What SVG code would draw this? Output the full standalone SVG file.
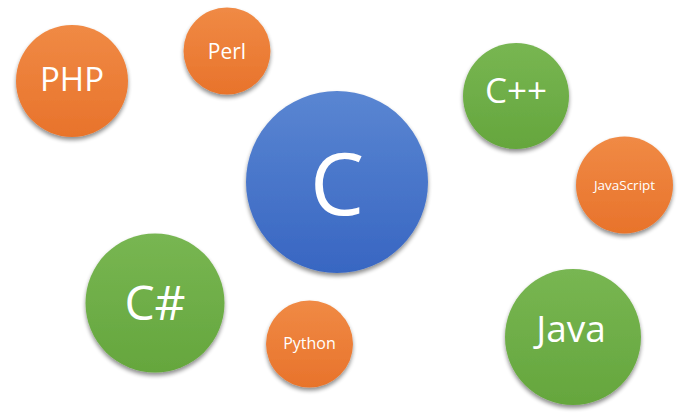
<svg xmlns="http://www.w3.org/2000/svg" width="696" height="415" viewBox="0 0 696 415">
  <defs>
    <linearGradient id="gBlue" x1="0" y1="0" x2="0" y2="1">
      <stop offset="0" stop-color="#5a86d2"/>
      <stop offset="1" stop-color="#3866c2"/>
    </linearGradient>
    <linearGradient id="gOrange" x1="0" y1="0" x2="0" y2="1">
      <stop offset="0" stop-color="#f08a45"/>
      <stop offset="1" stop-color="#e8732b"/>
    </linearGradient>
    <linearGradient id="gGreen" x1="0" y1="0" x2="0" y2="1">
      <stop offset="0" stop-color="#78b652"/>
      <stop offset="1" stop-color="#65a63d"/>
    </linearGradient>
    <filter id="shadow" x="-20%" y="-20%" width="140%" height="140%">
      <feGaussianBlur in="SourceAlpha" stdDeviation="2"/>
      <feOffset dx="0" dy="2.5" result="b"/>
      <feComponentTransfer><feFuncA type="linear" slope="0.45"/></feComponentTransfer>
      <feMerge><feMergeNode/><feMergeNode in="SourceGraphic"/></feMerge>
    </filter>
  </defs>
  <style>
    circle { filter: url(#shadow); }
    .blue { fill: url(#gBlue); }
    .orange { fill: url(#gOrange); }
    .green { fill: url(#gGreen); }
    text { fill: #ffffff; font-family: "Open Sans", "Noto Sans", "DejaVu Sans", sans-serif; text-anchor: middle; }
  </style>
  <rect width="696" height="415" fill="#ffffff"/>
  <g id="connectors"></g>
  <g id="node-c">
    <circle class="blue" cx="337" cy="182" r="91"/>
    <text x="337" y="215" font-size="86">C</text>
  </g>
  <g id="node-php">
    <circle class="orange" cx="72" cy="81" r="56"/>
    <text x="72" y="91" font-size="33">PHP</text>
  </g>
  <g id="node-perl">
    <circle class="orange" cx="227" cy="51" r="43.5"/>
    <text x="227" y="59" font-size="21">Perl</text>
  </g>
  <g id="node-cpp">
    <circle class="green" cx="516" cy="96" r="53"/>
    <text x="516" y="103" font-size="35">C++</text>
  </g>
  <g id="node-javascript">
    <circle class="orange" cx="624.5" cy="185" r="48.5"/>
    <text x="624.5" y="190" font-size="13.5">JavaScript</text>
  </g>
  <g id="node-csharp">
    <circle class="green" cx="155" cy="303" r="69.5"/>
    <text x="155" y="320" font-size="48">C#</text>
  </g>
  <g id="node-python">
    <circle class="orange" cx="309.5" cy="344" r="43.5"/>
    <text x="309.5" y="349" font-size="16">Python</text>
  </g>
  <g id="node-java">
    <circle class="green" cx="573" cy="337" r="68"/>
    <text x="571" y="342" font-size="37">Java</text>
  </g>
</svg>
